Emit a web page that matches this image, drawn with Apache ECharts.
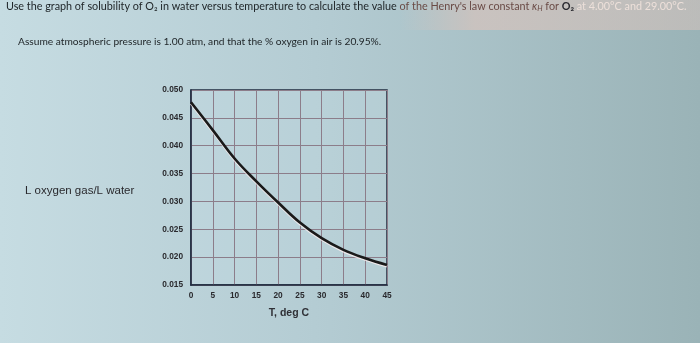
<!DOCTYPE html>
<html><head><meta charset="utf-8">
<script src="https://cdn.jsdelivr.net/npm/echarts@6/dist/echarts.min.js"></script>
<style>html,body{margin:0;padding:0;}#c{width:700px;height:343px;}</style>
</head><body><div id="c"></div>
<script>
var temps = [0, 5, 10, 15, 20, 25, 30, 35, 40, 45];
var solubility = [0.0478, 0.0428, 0.0377, 0.0336, 0.0298, 0.0262, 0.0234, 0.0213, 0.0198, 0.0186];
var yTicks = [0.015, 0.020, 0.025, 0.030, 0.035, 0.040, 0.045, 0.050];
var xTicks = [0, 5, 10, 15, 20, 25, 30, 35, 40, 45];
var yName = 'L oxygen gas/L water';
var xName = 'T, deg C';

var base = {fontFamily: 'Lato', fontSize: 10.8, fontWeight: 'normal'};
function st(extra) { var o = {}; for (var k in base) o[k] = base[k]; for (var k2 in extra) o[k2] = extra[k2]; return o; }

var chart = echarts.init(document.getElementById('c'));
chart.setOption({
  backgroundColor: new echarts.graphic.LinearGradient(0, 0, 1, 0, [
    {offset: 0, color: '#c6dce2'},
    {offset: 0.45, color: '#b4ccd3'},
    {offset: 1, color: '#9ab3b7'}
  ]),
  animation: false,
  graphic: [{
    type: 'rect', left: 400, top: 0, z: -1,
    shape: {width: 300, height: 30},
    style: {fill: new echarts.graphic.LinearGradient(0, 0, 1, 0, [
      {offset: 0, color: 'rgba(215,195,188,0)'},
      {offset: 0.25, color: 'rgba(215,195,188,0.7)'},
      {offset: 1, color: 'rgba(215,195,188,0.55)'}
    ])}
  }, {
    type: 'text', left: 25, top: 185,
    style: {text: yName, fontFamily: 'Liberation Sans', fontSize: 11.5, fill: '#2a2a2e'}
  }],
  title: [{
    left: 6, top: 0, padding: 0,
    text: '{d|Use the graph of solubility of O₂ in water versus temperature to calculate the value }{r|of the Henry\'s law constant }{i|κ}{is|H}{r| for }{b|O₂}{w| at 4.00°C and 29.00°C.}',
    textStyle: {
      fontWeight: 'normal',
      rich: {
        d: st({color: '#1d2326'}),
        r: st({color: '#6a4b46'}),
        i: st({fontStyle: 'italic', color: '#6a4b46'}),
        is: st({fontSize: 7.5, fontStyle: 'italic', color: '#6a4b46', padding: [5, 0, 0, 0]}),
        b: st({fontWeight: 'bold', color: '#2a2a30'}),
        w: st({color: '#ede0da'})
      }
    }
  }, {
    left: 18, top: 37, padding: 0,
    text: 'Assume atmospheric pressure is 1.00 atm, and that the % oxygen in air is 20.95%.',
    textStyle: {fontFamily: 'Lato', fontSize: 10.2, fontWeight: 'normal', color: '#1d2326'}
  }],
  grid: {
    left: 191, right: 313, top: 90, bottom: 58,
    show: true, borderColor: '#1f2b3f', borderWidth: 1.5, backgroundColor: 'rgba(200,222,232,0.25)'
  },
  xAxis: {
    type: 'value', min: xTicks[0], max: xTicks[xTicks.length - 1], interval: 5,
    name: xName, nameLocation: 'middle', nameGap: 23,
    nameTextStyle: {fontFamily: 'Liberation Sans', fontSize: 10.5, fontWeight: 'bold', color: '#2f3036'},
    axisLine: {lineStyle: {color: '#1f2b3f', width: 1.5}},
    axisTick: {show: false},
    axisLabel: {margin: 7, fontFamily: 'Liberation Sans', fontSize: 8.3, fontWeight: 'bold', color: '#2a2a2e',
      formatter: function (v) { return xTicks.indexOf(v) >= 0 ? String(v) : ''; }},
    splitLine: {show: true, lineStyle: {color: '#8c7d8a', width: 1}}
  },
  yAxis: {
    type: 'value', min: 0.015, max: 0.050, interval: 0.005,
    axisLine: {show: true, lineStyle: {color: '#1f2b3f', width: 1.5}},
    axisTick: {show: false},
    axisLabel: {margin: 8, fontFamily: 'Liberation Sans', fontSize: 8.3, fontWeight: 'bold', color: '#2a2a2e',
      formatter: function (v) {
        for (var i = 0; i < yTicks.length; i++) if (Math.abs(yTicks[i] - v) < 1e-9) return yTicks[i].toFixed(3);
        return '';
      }},
    splitLine: {show: true, lineStyle: {color: '#8c7d8a', width: 1}}
  },
  series: [{
    type: 'line', smooth: 0.4, symbol: 'none',
    data: temps.map(function (t, i) { return [t, solubility[i]]; }),
    lineStyle: {color: '#1a1a1a', width: 2.6, shadowColor: 'rgba(255,240,240,0.75)', shadowBlur: 0, shadowOffsetY: 1.3}
  }]
});
</script></body></html>
